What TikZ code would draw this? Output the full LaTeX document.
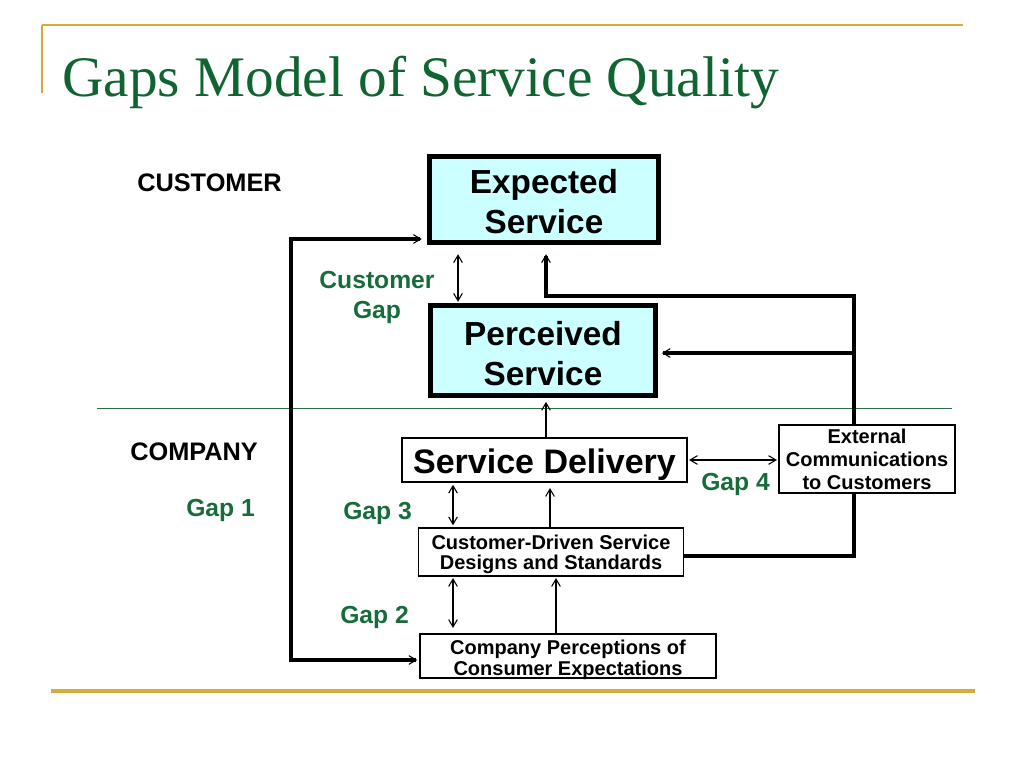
\documentclass[tikz,border=0pt]{standalone}
\usepackage{fontspec}
\setmainfont{Liberation Sans}
\newfontfamily\titlefont{Liberation Serif}
\usetikzlibrary{arrows.meta,calc}
\definecolor{gtext}{RGB}{24,108,60}
\definecolor{gtitle}{RGB}{16,100,50}
\definecolor{gold}{RGB}{212,172,58}
\definecolor{boxfill}{RGB}{204,255,255}
\definecolor{sepgreen}{RGB}{40,110,70}
\tikzset{
  bigbox/.style={draw=black, line width=3.6pt, fill=boxfill, inner sep=0pt},
  bigtext/.style={align=center, inner sep=0pt, font=\bfseries\fontsize{25pt}{30pt}\selectfont},
  smallbox/.style={draw=black, line width=1.1pt, fill=white, inner sep=0pt},
  smalltext/.style={align=center, inner sep=0pt, font=\bfseries\fontsize{15pt}{16pt}\selectfont},
  lbl/.style={inner sep=0pt, font=\bfseries\fontsize{19pt}{22.5pt}\selectfont},
  gaplbl/.style={inner sep=0pt, text=gtext, align=center, font=\bfseries\fontsize{18.5pt}{22.5pt}\selectfont},
  tip/.tip={Straight Barb[length=5.5pt,width=6.5pt,line width=0.8pt]},
  thinarrow/.style={line width=0.8pt},
  thickline/.style={line width=2.3pt},
}
\begin{document}
\begin{tikzpicture}[x=0.75pt,y=-0.75pt]
\useasboundingbox (0,0) rectangle (1024,768);
\fill[white] (0,0) rectangle (1024,768);
% decorative lines
\draw[gold, line width=2pt] (42,25) -- (963,25);
\draw[gold, line width=1.4pt] (42,25) -- (42,93);
\draw[gold, line width=2.3pt] (51,691) -- (975,691);
\draw[sepgreen, line width=1.1pt] (97,408.5) -- (952,408.5);
% title
\node[anchor=base west, inner sep=0pt, text=gtitle, font=\titlefont\fontsize{43pt}{50pt}\selectfont] (title) at (62,96) {Gaps Model of Service Quality};
% side labels
\node[lbl, anchor=west] (customer) at (137,183) {CUSTOMER};
\node[lbl, anchor=west] (company) at (130,452) {COMPANY};
\node[gaplbl, anchor=west] (gap1) at (186,510) {Gap 1};
\node[gaplbl] (custgap) at (377,297) {Customer\\Gap};
\node[gaplbl, anchor=west] (gap3) at (343,513) {Gap 3};
\node[gaplbl, anchor=west] (gap2) at (340,617) {Gap 2};
\node[gaplbl, anchor=west] (gap4) at (701,484) {Gap 4};
% boxes
\node[bigbox, minimum width=171.75pt, minimum height=64.5pt] (exp) at (544,199.5) {};
\node[bigtext] (exptext) at (544,201.5) {Expected\\Service};
\node[bigbox, minimum width=168.75pt, minimum height=67.5pt] (per) at (543,350.5) {};
\node[bigtext] (pertext) at (543,354) {Perceived\\Service};
\node[smallbox, minimum width=213.75pt, minimum height=33pt] (sd) at (544.5,460) {};
\node[smalltext, font=\bfseries\fontsize{25.5pt}{30pt}\selectfont] (sdtext) at (544.5,464.5) {Service Delivery};
\node[smallbox, minimum width=132pt, minimum height=51pt] (ext) at (867,459) {};
\node[smalltext, font=\bfseries\fontsize{15pt}{17pt}\selectfont] (exttext) at (867,459.5) {External\\Communications\\to Customers};
\node[smallbox, minimum width=198.4pt, minimum height=36pt] (cd) at (551,552) {};
\node[smalltext, font=\bfseries\fontsize{15pt}{15pt}\selectfont] (cdtext) at (551,554) {Customer-Driven Service\\Designs and Standards};
\node[smallbox, minimum width=222pt, minimum height=33pt] (cp) at (568,656) {};
\node[smalltext] (cptext) at (568,659.5) {Company Perceptions of\\Consumer Expectations};
% helper coordinates
\coordinate (lt) at (291,239);
\coordinate (lb) at (291,660);
\coordinate (cgx) at (458,0);
\coordinate (rx) at (854,296);
\coordinate (ux) at (546,0);
\coordinate (pa) at (0,353);
\coordinate (gx) at (453,0);
\coordinate (ux2) at (550,0);
\coordinate (ux3) at (556,0);
\coordinate (cy) at (0,556);
% connectors
\draw[thickline, {tip}-{tip}, shorten <=4pt, shorten >=1.5pt] (lt -| exp.west) -- (lt) -- (lb) -- (lb -| cp.west);
\draw[thinarrow, {tip}-{tip}, shorten <=7pt, shorten >=1pt] (exp.south -| cgx) -- (per.north -| cgx);
\draw[thickline, -{tip}, shorten >=7pt] (ext.north -| rx) -- (rx) -- (ux |- rx) -- (ux |- exp.south);
\draw[thickline, -{tip}, shorten >=3pt] (rx |- pa) -- (per.east |- pa);
\draw[thinarrow, -{tip}, shorten >=3pt] (sd.north -| ux) -- (per.south -| ux);
\draw[thinarrow, {tip}-{tip}, shorten <=1pt, shorten >=1pt] (sd.east) -- (sd.east -| ext.west);
\draw[thinarrow, {tip}-{tip}, shorten <=1.5pt, shorten >=1.5pt] (sd.south -| gx) -- (cd.north -| gx);
\draw[thinarrow, -{tip}, shorten >=4pt] (cd.north -| ux2) -- (sd.south -| ux2);
\draw[thinarrow, {tip}-{tip}, shorten <=1pt, shorten >=4pt] (cd.south -| gx) -- (cp.north -| gx);
\draw[thinarrow, -{tip}, shorten >=1pt] (cp.north -| ux3) -- (cd.south -| ux3);
\draw[thickline] (cd.east |- cy) -- (rx |- cy) -- (rx |- ext.south);
\end{tikzpicture}
\end{document}
